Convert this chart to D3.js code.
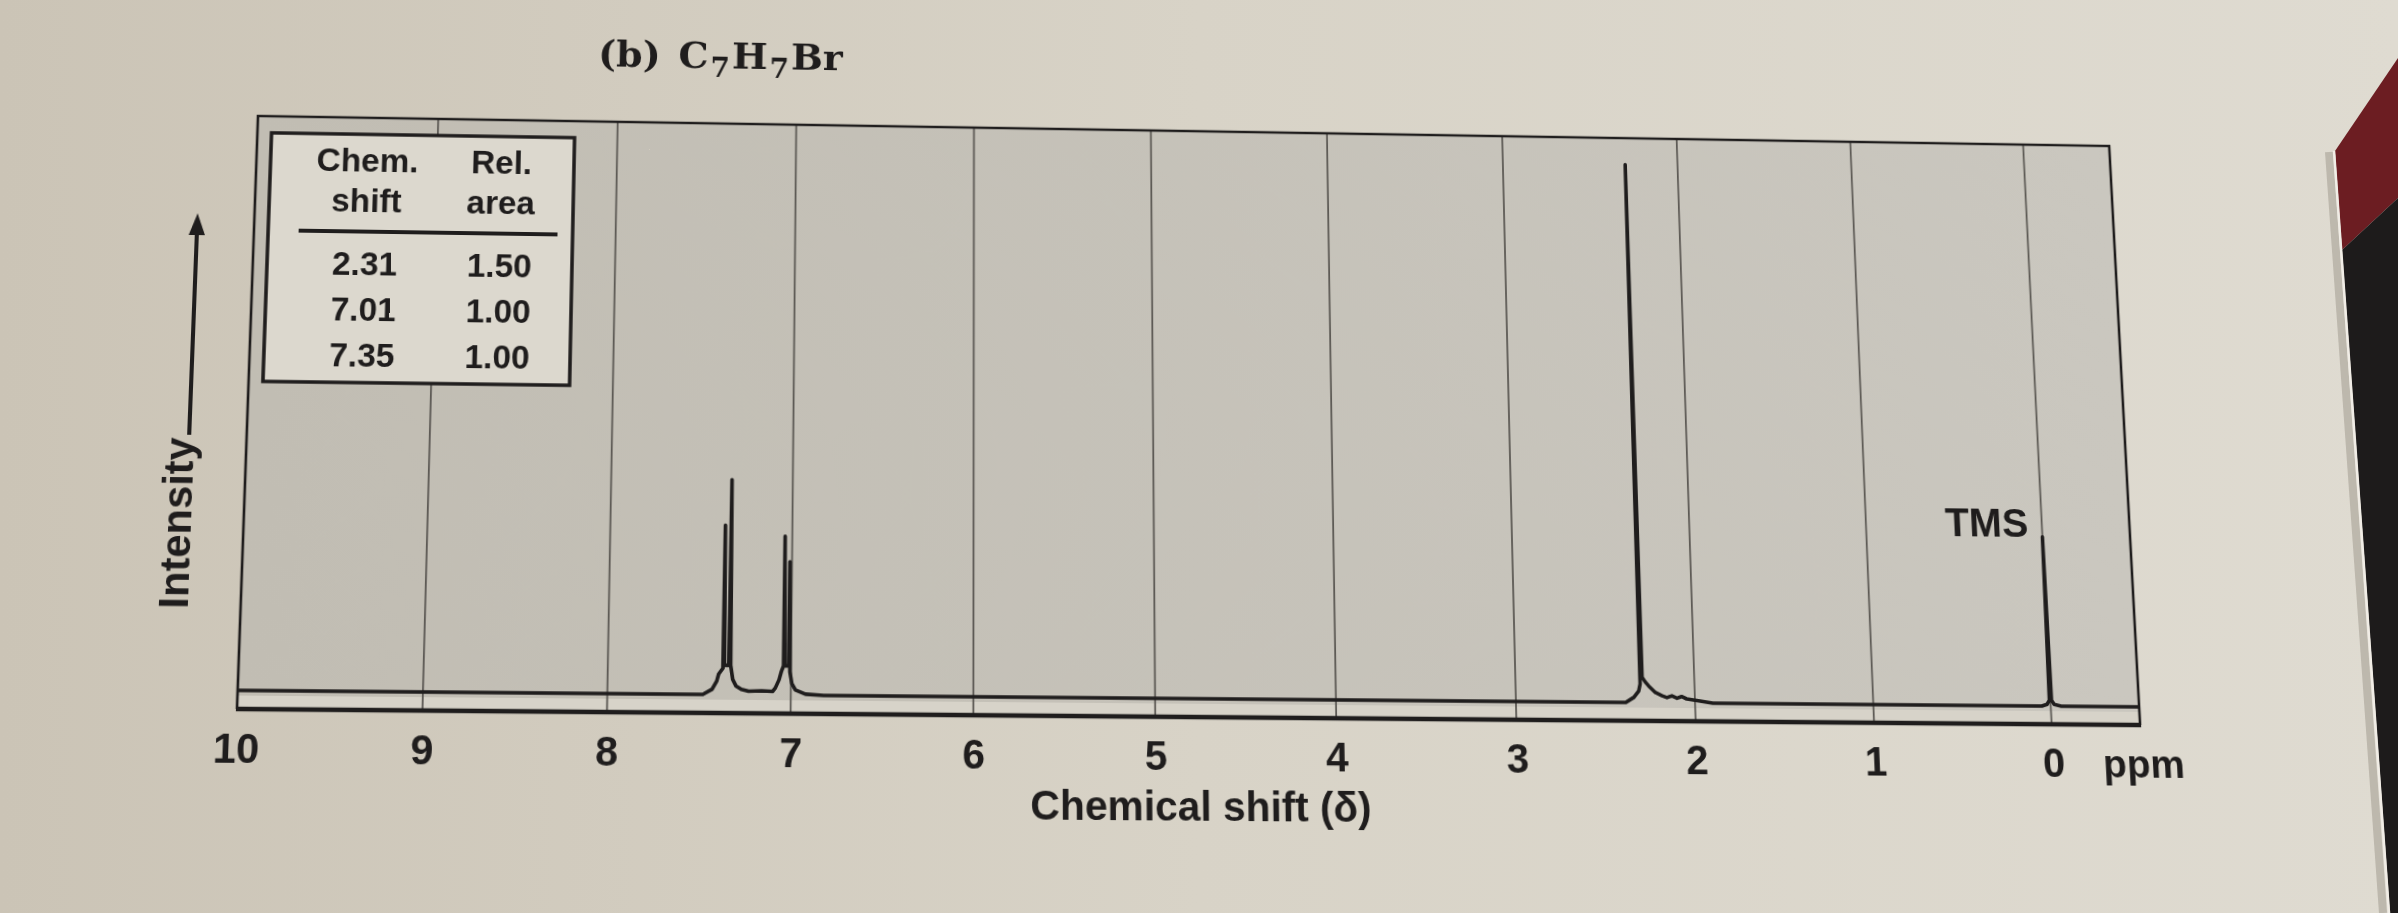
<!DOCTYPE html>
<html><head><meta charset="utf-8">
<script src="https://cdn.jsdelivr.net/npm/d3@7"></script>
<style>
html,body{margin:0;padding:0;width:2398px;height:913px;overflow:hidden;background:#d8d2c5;}
#bg{position:absolute;left:0;top:0;}
#paper{position:absolute;left:0;top:0;transform-origin:0 0;}
</style></head><body>
<svg id="bg" width="2398" height="913"></svg>
<svg id="paper" width="2398" height="913"></svg>
<script>
// ---------------- data ----------------
const titleParts = [["(b)", false], ["C", false], ["7", true], ["H", false], ["7", true], ["Br", false]];
const xTicks = [10, 9, 8, 7, 6, 5, 4, 3, 2, 1, 0];
const xDomain = [10, -0.5];
const yDomain = [0, 100];
const tableHeader1 = ["Chem.", "Rel."];
const tableHeader2 = ["shift", "area"];
const tableShifts = ["2.31", "7.01", "7.35"];
const tableAreas = ["1.50", "1.00", "1.00"];
// spectrum trace: chemical shift (ppm) and intensity (% of plot height)
const tracePpm = [10.0, 7.48, 7.43, 7.405, 7.395, 7.372, 7.368, 7.364, 7.340, 7.335, 7.330, 7.318, 7.30, 7.27, 7.23, 7.16, 7.10, 7.085, 7.065, 7.052, 7.041, 7.039, 7.035, 7.014, 7.011, 7.006, 6.995, 6.975, 6.92, 6.82, 2.40, 2.387, 2.341, 2.313, 2.304, 2.300, 2.292, 2.276, 2.257, 2.22, 2.183, 2.156, 2.128, 2.10, 2.074, 2.046, 1.98, 1.90, 0.05, 0.02, 0.006, 0.0, -0.006, -0.02, -0.06, -0.5];
const traceIntensity = [0, 0, 0.9, 2.3, 3.5, 4.5, 29.1, 5, 5, 37.0, 5, 2.6, 1.5, 0.9, 0.6, 0.7, 0.6, 1.2, 2.6, 4.1, 5, 27.3, 5, 5, 22.9, 4, 2, 0.9, 0.2, 0, 0, 0, 0.9, 2.0, 3.2, 95.2, 4.4, 3.6, 2.9, 1.75, 1.2, 0.9, 1.2, 0.8, 1.1, 0.7, 0.4, 0, 0, 0.3, 1.0, 29.6, 1.0, 0.3, 0, 0];
const tmsLabel = "TMS";
const tmsPpm = 0;
const tmsIntensity = 29.6;

// ---------------- layout (flat page coordinates) ----------------
const L = 247, R = 2125, T = 127, B = 717, BASE = 699;
const SANS = "'Liberation Sans', Arial, Helvetica, sans-serif";
const INK = "#1f1d1d";

// background (photo surroundings)
const bg = d3.select("#bg");
const defs0 = bg.append("defs");
const pg = defs0.append("linearGradient").attr("id", "paperg").attr("x1", 0).attr("x2", 1).attr("y1", 0).attr("y2", 0);
pg.append("stop").attr("offset", 0).attr("stop-color", "#cbc4b6");
pg.append("stop").attr("offset", 0.5).attr("stop-color", "#d8d3c7");
pg.append("stop").attr("offset", 1).attr("stop-color", "#dfdbd1");
bg.append("rect").attr("width", 2398).attr("height", 913).attr("fill", "url(#paperg)");
const line2 = d3.line();
bg.append("path").attr("d", line2([[2329, 152], [2383, 913]])).attr("stroke", "#bdb8ad").attr("stroke-width", 8).attr("fill", "none");
bg.append("path").attr("d", line2([[2335, 151], [2398, 58], [2398, 198], [2342, 250]]) + "Z").attr("fill", "#6c1d22");
bg.append("path").attr("d", line2([[2342, 250], [2398, 198], [2398, 913], [2390, 913]]) + "Z").attr("fill", "#1d1b1b");
bg.append("path").attr("d", line2([[2334, 151], [2389, 913]])).attr("stroke", "#f1ede6").attr("stroke-width", 2.5).attr("fill", "none");

// ---------------- chart ----------------
const svg = d3.select("#paper");
const defs = svg.append("defs");
const plg = defs.append("linearGradient").attr("id", "plotg").attr("x1", 0).attr("x2", 1).attr("y1", 0).attr("y2", 0);
plg.append("stop").attr("offset", 0).attr("stop-color", "#c1bdb3");
plg.append("stop").attr("offset", 1).attr("stop-color", "#cac7bf");

const x = d3.scaleLinear().domain(xDomain).range([L, R]);
const y = d3.scaleLinear().domain(yDomain).range([BASE, T]);

// plot background and the light strip under the baseline
svg.append("rect").attr("x", L).attr("y", T).attr("width", R - L).attr("height", B - T).attr("fill", "url(#plotg)");
svg.append("rect").attr("x", L).attr("y", y(0) + 5).attr("width", R - L).attr("height", B - y(0) - 5).attr("fill", "#d7d3c9");

// vertical grid lines
svg.append("g").selectAll("line").data(xTicks.filter(d => d !== xDomain[0])).join("line")
  .attr("x1", d => x(d)).attr("x2", d => x(d)).attr("y1", T).attr("y2", B)
  .attr("stroke", "#5d5a55").attr("stroke-width", 1.8);

// frame
svg.append("path").attr("d", line2([[L, B], [L, T], [R, T], [R, B]]))
  .attr("fill", "none").attr("stroke", INK).attr("stroke-width", 2.6);
svg.append("line").attr("x1", L - 1).attr("x2", R + 1).attr("y1", B).attr("y2", B)
  .attr("stroke", INK).attr("stroke-width", 4.5);

// relative-area table
const tb = svg.append("g");
const tX = L + 14, tY = T + 17, tW = 301, tH = 251;
tb.append("rect").attr("x", tX).attr("y", tY).attr("width", tW).attr("height", tH)
  .attr("fill", "#dcd8ce").attr("stroke", INK).attr("stroke-width", 3.5);
const c1 = tX + 96, c2 = tX + 229;
const tt = (txt, cx, cy) => tb.append("text").attr("x", cx).attr("y", cy).attr("text-anchor", "middle")
  .attr("font-family", SANS).attr("font-weight", "bold").attr("font-size", 33).attr("fill", INK).text(txt);
tt(tableHeader1[0], c1, tY + 38); tt(tableHeader1[1], c2, tY + 38);
tt(tableHeader2[0], c1, tY + 79); tt(tableHeader2[1], c2, tY + 79);
tb.append("line").attr("x1", tX + 30).attr("x2", tX + 286).attr("y1", tY + 99).attr("y2", tY + 99)
  .attr("stroke", INK).attr("stroke-width", 4);
tableShifts.forEach((s, i) => {
  tt(s, c1, tY + 143 + i * 46);
  tt(tableAreas[i], c2, tY + 143 + i * 46);
});

// spectrum trace
const pts = tracePpm.map((p, i) => [p, traceIntensity[i]]);
svg.append("path").datum(pts)
  .attr("d", d3.line().x(d => x(d[0])).y(d => y(d[1])))
  .attr("fill", "none").attr("stroke", INK).attr("stroke-width", 3.6)
  .attr("stroke-linejoin", "round");

// TMS label
svg.append("text").attr("x", x(tmsPpm) - 14).attr("y", y(tmsIntensity))
  .attr("text-anchor", "end").attr("font-family", SANS).attr("font-weight", "bold")
  .attr("font-size", 40).attr("fill", INK).text(tmsLabel);

// x axis tick labels
const xAxis = d3.axisBottom(x).tickValues(xTicks).tickFormat(d3.format("d")).tickSize(0).tickPadding(0);
const ax = svg.append("g").attr("transform", `translate(0,${B + 52})`).call(xAxis);
ax.select(".domain").remove();
ax.selectAll("text").attr("dy", 0).attr("y", 0).attr("font-family", SANS).attr("font-weight", "bold")
  .attr("font-size", 40).attr("fill", INK);
svg.append("text").attr("x", x(0) + 50).attr("y", B + 52).attr("font-family", SANS).attr("font-weight", "bold")
  .attr("font-size", 39).attr("fill", INK).text("ppm");
svg.append("text").attr("x", (L + R) / 2 + 0).attr("y", B + 101).attr("text-anchor", "middle")
  .attr("font-family", SANS).attr("font-weight", "bold").attr("font-size", 40).attr("fill", INK)
  .text("Chemical shift (δ)");

// y label + arrow
svg.append("text").attr("transform", `translate(${L - 51},${(T + B) / 2 + 114}) rotate(-90)`)
  .attr("text-anchor", "middle").attr("font-family", SANS).attr("font-weight", "bold")
  .attr("font-size", 41).attr("fill", INK).text("Intensity");
svg.append("line").attr("x1", L - 56).attr("x2", L - 56).attr("y1", T + 322).attr("y2", T + 118)
  .attr("stroke", INK).attr("stroke-width", 4);
svg.append("path").attr("d", line2([[L - 56, T + 100], [L - 64, T + 122], [L - 48, T + 122]]) + "Z").attr("fill", INK);

// title
const title = svg.append("text").attr("x", 707).attr("y", 70).attr("text-anchor", "middle")
  .attr("font-family", "'DejaVu Serif', 'Liberation Serif', serif").attr("font-weight", "bold")
  .attr("font-size", 38).attr("fill", INK);
titleParts.forEach(([s, sub], i) => {
  const ts = title.append("tspan").text(s);
  if (sub) ts.attr("font-size", 28).attr("dy", 9);
  else if (i > 0 && titleParts[i - 1][1]) ts.attr("dy", -9);
  if (i === 1) ts.attr("dx", 18);
  if (i > 1) ts.attr("dx", 2);
});

// ---------------- photo perspective (flat page -> photographed page) ----------------
function homography(src, dst) {
  const A = [], b = [];
  for (let i = 0; i < 4; i++) {
    const [sx, sy] = src[i], [X, Y] = dst[i];
    A.push([sx, sy, 1, 0, 0, 0, -sx * X, -sy * X]); b.push(X);
    A.push([0, 0, 0, sx, sy, 1, -sx * Y, -sy * Y]); b.push(Y);
  }
  const n = 8;
  for (let c = 0; c < n; c++) {
    let p = c;
    for (let r = c + 1; r < n; r++) if (Math.abs(A[r][c]) > Math.abs(A[p][c])) p = r;
    [A[c], A[p]] = [A[p], A[c]]; [b[c], b[p]] = [b[p], b[c]];
    for (let r = 0; r < n; r++) {
      if (r === c) continue;
      const f = A[r][c] / A[c][c];
      for (let k = c; k < n; k++) A[r][k] -= f * A[c][k];
      b[r] -= f * b[c];
    }
  }
  return b.map((v, i) => v / A[i][i]);
}
const [ha, hb, hc, hd, he, hf, hg, hh] = homography(
  [[L, T], [R, T], [L, B], [R, B]],
  [[258, 116], [2109, 146], [237, 709], [2140, 725]]);
document.getElementById("paper").style.transform =
  `matrix3d(${ha},${hd},0,${hg},${hb},${he},0,${hh},0,0,1,0,${hc},${hf},0,1)`;
</script>
</body></html>
